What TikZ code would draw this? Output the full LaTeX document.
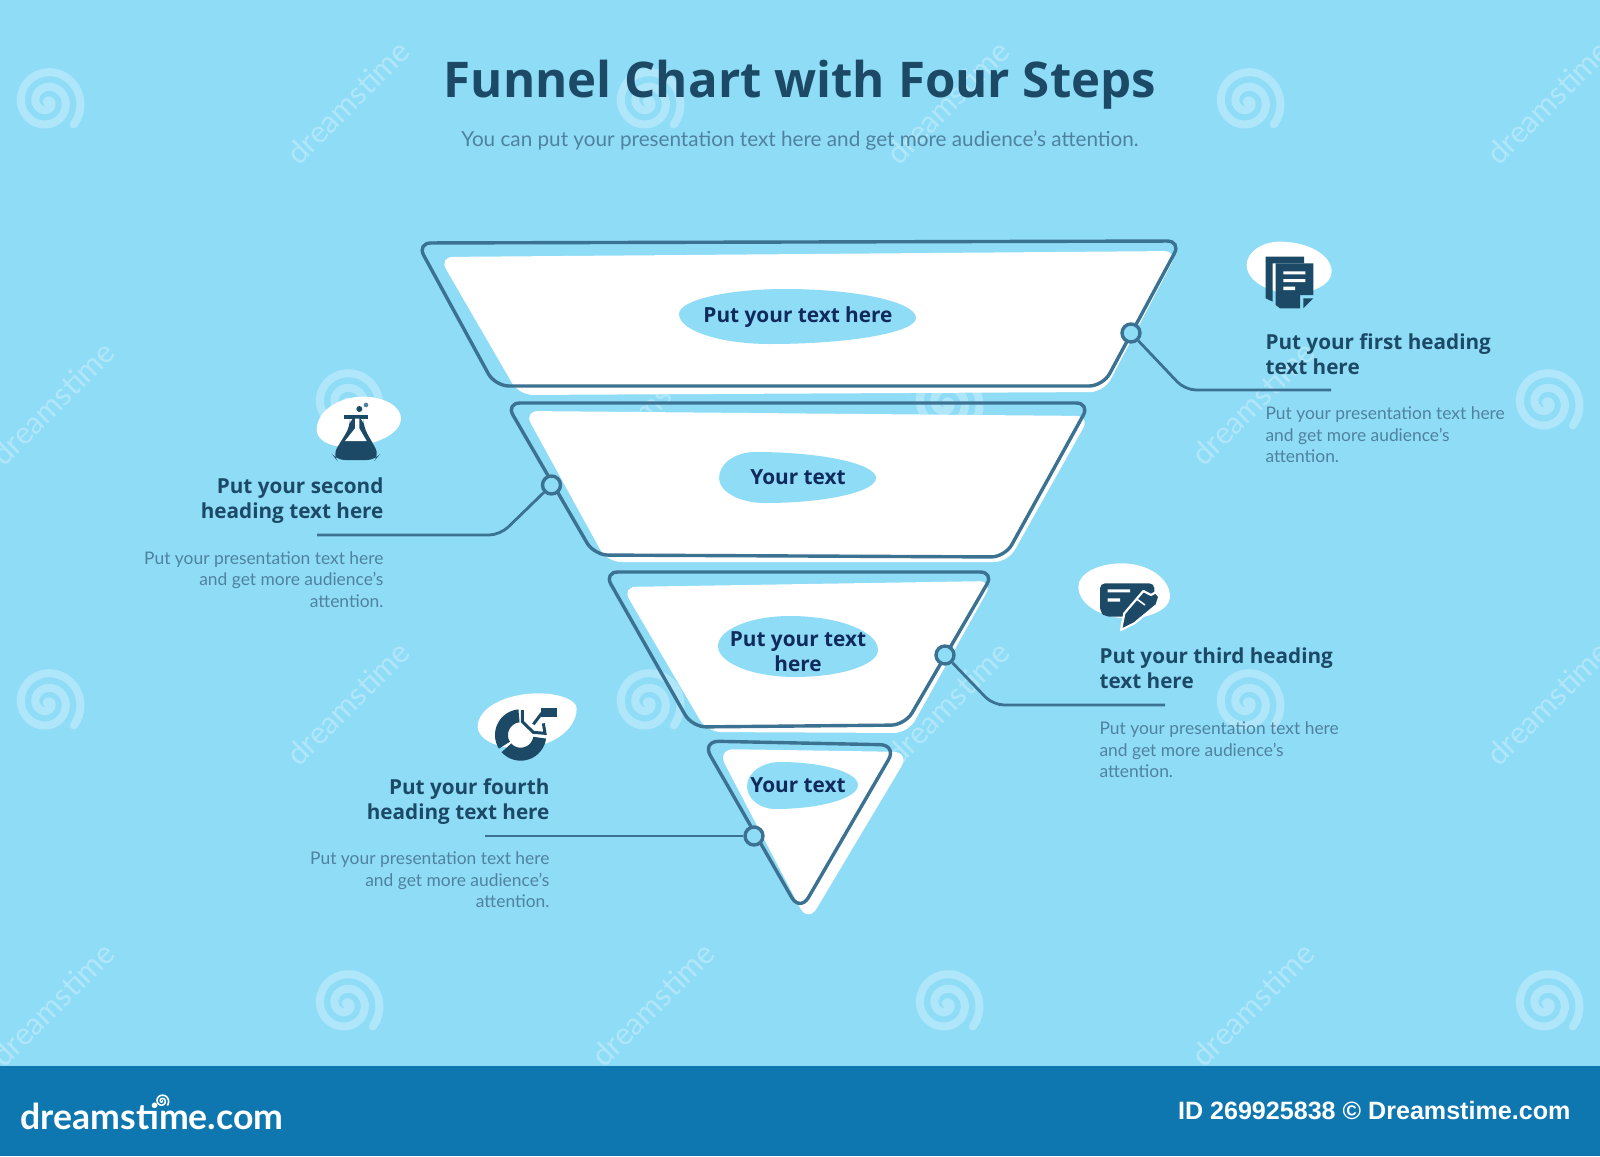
\documentclass[tikz,border=0pt]{standalone}
\usepackage{fontspec}
\setmainfont{Lato}
\newfontfamily\headfont{Open Sans}
\newfontfamily\footfont{Liberation Sans}
\usetikzlibrary{positioning,calc}
\definecolor{sky}{HTML}{8FDCF7}
\definecolor{band}{HTML}{0E77B0}
\definecolor{ink}{HTML}{1C4A66}
\definecolor{navy}{HTML}{102A5C}
\definecolor{wire}{HTML}{3B7191}
\definecolor{muted}{HTML}{4F829E}
\tikzset{
    %Define style for funnel shapes
    stepfill/.style={fill=white,rounded corners=14pt},
    stepline/.style={draw=wire,line width=3.4pt,rounded corners=14pt},
    blob/.style={fill=sky},
    iconblob/.style={fill=white},
    %Define style for texts
    titletext/.style={font=\headfont\fontsize{49.2}{56}\selectfont\bfseries,text=ink},
    subtext/.style={font=\fontsize{20.7}{25}\selectfont,text=muted},
    steplabel/.style={font=\headfont\fontsize{20.8}{25}\selectfont\bfseries,text=navy,align=center},
    headleft/.style={font=\headfont\fontsize{20.7}{25.5}\selectfont\bfseries,text=ink,align=left,anchor=north west},
    headright/.style={font=\headfont\fontsize{20.7}{25.5}\selectfont\bfseries,text=ink,align=right,anchor=north east},
    bodyleft/.style={font=\fontsize{17.4}{21.3}\selectfont,text=muted,align=left,anchor=north west},
    bodyright/.style={font=\fontsize{17.4}{21.3}\selectfont,text=muted,align=right,anchor=north east},
    %Define connector and its dot
    leader/.style={draw=wire,line width=2.8pt,rounded corners=11pt},
    dot/.style={circle,draw=wire,line width=3.4pt,fill=sky,minimum size=18pt,inner sep=0pt},
    %Define watermark
    wmark/.style={white,opacity=.3},
    icon/.style={fill=ink,draw=none}
}
\newcommand{\wmspiral}[1]{%
  \draw[wmark,line width=8pt,line cap=round,shift={#1}]
    plot[smooth,domain=0:860,samples=70] ({35/860*\x*cos(\x-860+40)},{35/860*\x*sin(\x-860+40)});}
% style, then left, top, right and bottom point
\newcommand{\blobshape}[9]{%
  \fill[#1] (#2,#3) .. controls (#2,{#3-.55*(#3-#5)}) and ({#4-.55*(#4-#2)},#5) .. (#4,#5)
    .. controls ({#4+.55*(#6-#4)},#5) and (#6,{#7-.55*(#7-#5)}) .. (#6,#7)
    .. controls (#6,{#7+.55*(#9-#7)}) and ({#8+.55*(#6-#8)},#9) .. (#8,#9)
    .. controls ({#8-.55*(#8-#2)},#9) and (#2,{#3+.55*(#9-#3)}) .. (#2,#3) -- cycle;}
\begin{document}
\begin{tikzpicture}[x=1pt,y=-1pt]
\useasboundingbox (0,0) rectangle (1600,1156);
\fill[sky] (0,0) rectangle (1600,1156);
% watermark
\foreach \a/\b in {49/102,649/102,1249/102,348/403,948/403,1548/403,49/703,649/703,1249/703,348/1004,948/1004,1548/1004}{
  \wmspiral{(\a-2,\b)}
}
\foreach \a/\b [count=\i] in {348/102,948/102,1548/102,53/403,653/403,1253/403,348/703,948/703,1548/703,53/1004,653/1004,1253/1004}{
  \node[wmark,rotate=45,font=\fontsize{31}{31}\selectfont] (wm\i) at (\a,\b) {dreamstime};
}
% funnel fills
\path[stepfill] (439,257) -- (1178,251) -- (1104,392) -- (519,395) -- cycle;
\path[stepfill] (524,411) -- (1090,416) -- (1008,562) -- (607,562) -- cycle;
\path[stepfill] (622,587) -- (993,581) -- (908,733) -- (707,732) -- cycle;
\path[stepfill,rounded corners=17pt] (717,749) -- (910,752) -- (808,923) -- cycle;
% blobs
\blobshape{blob}{679}{314}{785}{289}{916}{318}{770}{344}
\blobshape{blob}{719}{478}{755}{452}{876}{478}{765}{503}
\blobshape{blob}{718}{646}{790}{616}{878}{650}{795}{677}
\blobshape{blob}{747}{786}{780}{762}{858}{785}{775}{809}
% funnel outlines
\draw[stepline] (417,243) -- (1181,241) -- (1103,386) -- (495,386) -- cycle;
\draw[stepline] (506,403) -- (1090,403) -- (1005,557) -- (594,555) -- cycle;
\draw[stepline] (604,572) -- (994,572) -- (905,725) -- (692,727) -- cycle;
\draw[stepline,rounded corners=17pt] (702,741) -- (897,745) -- (800,912) -- cycle;
% labels
\node[titletext] (title) at (800,85) {Funnel Chart with Four Steps};
\node[subtext] (sub) at (800,140) {You can put your presentation text here and get more audience's attention.};
\node[steplabel] (label1) at (798,317) {Put your text here};
\node[steplabel] (label2) at (798,477) {Your text};
\node[steplabel] (label3) at (798,652) {Put your text\\here};
\node[steplabel] (label4) at (798,785) {Your text};
% connectors
\node[dot] (dot1) at (1131,333) {};
\node[dot] (dot2) at (551.5,485) {};
\node[dot] (dot3) at (945,655) {};
\node[dot] (dot4) at (754,836) {};
\coordinate (bend1) at (1185,390);
\coordinate (end1) at (1331,390);
\coordinate (bend2) at (500,535);
\coordinate (end2) at (317,535);
\coordinate (bend3) at (993,705);
\coordinate (end3) at (1165,705);
\coordinate (end4) at (485,836);
\draw[leader] (dot1) -- (bend1) -- (end1);
\draw[leader] (dot2) -- (bend2) -- (end2);
\draw[leader] (dot3) -- (bend3) -- (end3);
\draw[leader] (dot4) -- (end4);
% side texts
\node[headleft] (head1) at (1262,330) {Put your first heading\\text here};
\node[bodyleft,below=25pt of head1.south west,anchor=north west] (body1) {Put your presentation text here\\and get more audience's\\attention.};
\node[headright] (head2) at (387,474) {Put your second\\heading text here};
\node[bodyright,below=21pt of head2.south east,anchor=north east] (body2) {Put your presentation text here\\and get more audience's\\attention.};
\node[headleft] (head3) at (1096,644) {Put your third heading\\text here};
\node[bodyleft,below=26pt of head3.south west,anchor=north west] (body3) {Put your presentation text here\\and get more audience's\\attention.};
\node[headright] (head4) at (553,775) {Put your fourth\\heading text here};
\node[bodyright,below=20pt of head4.south east,anchor=north east] (body4) {Put your presentation text here\\and get more audience's\\attention.};
% icon one
\begin{scope}[shift={(1230,230)},scale=1/3]
  \blobshape{iconblob}{50}{105}{150}{35}{305}{125}{190}{190}
  \fill[icon] (107,80) -- (222,80) -- (222,100) -- (128,100) -- (128,215) -- (107,205) -- cycle;
  \fill[icon] (137,100) -- (250,100) -- (250,195) -- (210,195) -- (210,235) -- (150,235) -- (137,225) -- cycle;
  \fill[white] (160,124) rectangle (226,133) (160,147) rectangle (226,156) (160,170) rectangle (195,180);
  \fill[icon] (220,205) -- (250,205) -- (220,235) -- cycle;
\end{scope}
% icon two
\begin{scope}[shift={(300,385)},scale=1/3]
  \blobshape{iconblob}{50}{135}{190}{35}{303}{100}{130}{185}
  \fill[icon,rounded corners=8pt] (150,96) -- (190,96) -- (190,125) -- (238,210) -- (225,225) -- (110,225) -- (98,210) -- (150,125) -- cycle;
  \fill[icon] (132,90) rectangle (205,101);
  \fill[white] (165,101) -- (178,101) -- (178,130) -- (200,168) -- (135,168) -- (165,130) -- cycle;
  \fill[icon] (178,72) circle (9);
  \fill[muted] (198,60) circle (7);
\end{scope}
% icon three
\begin{scope}[shift={(1065,555)},scale=1/3]
  \blobshape{iconblob}{40}{95}{170}{25}{315}{125}{190}{190}
  \fill[icon,rounded corners=5pt] (105,85) -- (268,85) -- (268,140) -- (190,185) -- (120,185) -- (105,170) -- cycle;
  \fill[white] (128,103) rectangle (195,112) (128,130) rectangle (165,140);
  \draw[white,line width=2.2pt,fill=ink,line join=round] (168,225) -- (178,175) -- (235,108) -- (258,120) -- (272,112) -- (283,125) -- (275,150) -- (208,205) -- cycle;
  \draw[white,line width=1.6pt] (215,132) -- (240,150);
\end{scope}
% icon four
\begin{scope}[shift={(465,685)},scale=1/3]
  \blobshape{iconblob}{38}{125}{220}{25}{335}{70}{160}{190}
  \fill[icon] plot[domain=-95:-212,samples=30] ({167+77*cos(\x)},{150+77*sin(\x)}) -- plot[domain=-212:-95,samples=30] ({167+38*cos(\x)},{150+38*sin(\x)}) -- cycle;
  \fill[icon] plot[domain=-222:-352,samples=30] ({167+77*cos(\x)},{150+77*sin(\x)}) -- plot[domain=-352:-222,samples=30] ({167+38*cos(\x)},{150+38*sin(\x)}) -- cycle;
  \draw[ink,line width=3pt] (172,75) -- (172,110) -- (205,142) -- (240,145) -- (235,115);
  \draw[ink,line width=3pt] (205,118) -- (230,85);
  \fill[icon] (228,68) rectangle (275,95);
\end{scope}
% footer
\fill[band] (0,1066) rectangle (1600,1156);
\node[white,font=\fontsize{35.6}{36}\selectfont\bfseries,anchor=base west] (brand) at (17,1129) {dreamstime.com};
\node[white,font=\footfont\fontsize{25.1}{26}\selectfont\bfseries,anchor=base east] (stockid) at (1574,1119) {ID 269925838 © Dreamstime.com};
\draw[white,line width=1.6pt,shift={(162,1101)}] plot[smooth,domain=0:760,samples=40] ({7/760*\x*cos(\x)},{7/760*\x*sin(\x)});
\end{tikzpicture}
\end{document}
